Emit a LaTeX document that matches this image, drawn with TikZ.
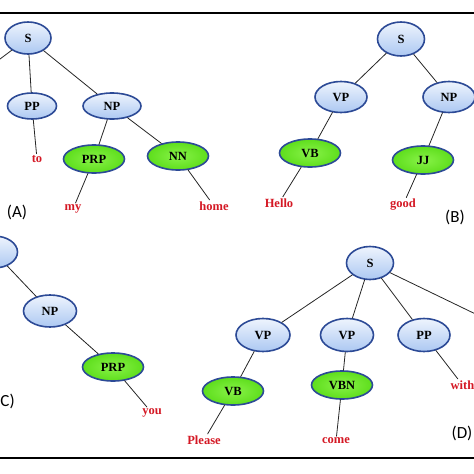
\documentclass[tikz,border=0pt]{standalone}
\usepackage{fontspec}
\setmainfont{Liberation Serif}
\newfontfamily\panelfont{Carlito}
\usetikzlibrary{shapes.geometric}
\definecolor{rim}{RGB}{44,74,150}
\definecolor{blueup}{RGB}{238,244,253}
\definecolor{bluedown}{RGB}{172,200,242}
\definecolor{leafin}{RGB}{136,242,72}
\definecolor{leafout}{RGB}{94,222,28}
\definecolor{word}{RGB}{212,24,36}
\tikzset{
 phr/.style={ellipse, draw=rim, line width=1.6pt, top color=blueup, bottom color=bluedown,
   minimum width=52, minimum height=31, inner sep=0pt, font=\fontsize{12.5}{12.5}\selectfont\bfseries},
 tag/.style={phr, inner color=leafin, outer color=leafout, minimum width=61, minimum height=28},
 wrd/.style={text=word, inner sep=1.5pt, font=\fontsize{12.5}{12.5}\selectfont\bfseries},
 lbl/.style={font=\fontsize{17}{17}\selectfont\panelfont},
 edge/.style={line width=0.8pt, black!85}
}
\begin{document}
\begin{tikzpicture}[x=1pt, y=-1pt, line cap=round, line join=round]
 \useasboundingbox (0,0) rectangle (474,474);
 \clip (0,0) rectangle (474,474);
 \draw[line width=2.5pt, line cap=butt] (0,13)--(474,13) (0,458)--(474,458);
 % (A)
 \node[phr, minimum width=46, minimum height=32] (sA) at (28,38) {S};
 \node[phr, minimum width=49, minimum height=26] (ppA) at (32,106) {PP};
 \node[phr, minimum width=58, minimum height=26] (npA) at (112,106) {NP};
 \node[tag] (prpA) at (94,159) {PRP};
 \node[tag] (nnA) at (178,156) {NN};
 \node[wrd] (toA) at (37,159) {to};
 \node[wrd] (myA) at (73,209) {my};
 \node[wrd] (homeA) at (214,206) {home};
 \coordinate (offA) at (-20,74);
 \foreach \a/\b in {sA/offA,sA/ppA,sA/npA,ppA/toA,npA/prpA,npA/nnA,prpA/myA,nnA/homeA} \draw[edge] (\a)--(\b);
 \node[lbl] (labA) at (17,212) {(A)};
 % (B)
 \node[phr, minimum width=47, minimum height=34] (sB) at (401,39) {S};
 \node[phr] (vpB) at (341,97) {VP};
 \node[phr] (npB) at (449,97) {NP};
 \node[tag] (vbB) at (310,153) {VB};
 \node[tag] (jjB) at (423,160) {JJ};
 \node[wrd] (helloB) at (279,203) {Hello};
 \node[wrd] (goodB) at (403,205) {good};
 \foreach \a/\b in {sB/vpB,sB/npB,vpB/vbB,npB/jjB,vbB/helloB,jjB/goodB} \draw[edge] (\a)--(\b);
 \node[lbl] (labB) at (455,217) {(B)};
 % (C)
 \node[phr, minimum width=47, minimum height=32] (sC) at (-6,252) {};
 \node[phr, minimum width=53, minimum height=32] (npC) at (50,311) {NP};
 \node[tag] (prpC) at (113,367) {PRP};
 \node[wrd] (youC) at (152,413) {you};
 \foreach \a/\b in {sC/npC,npC/prpC,prpC/youC} \draw[edge] (\a)--(\b);
 \node[lbl] (labC) at (5,401) {(C)};
 % (D)
 \node[phr, minimum width=47, minimum height=33] (sD) at (370,263) {S};
 \node[phr, minimum width=54, minimum height=33] (vpD) at (263,335) {VP};
 \node[phr, minimum width=53, minimum height=33] (vvD) at (347,335) {VP};
 \node[phr, minimum width=52, minimum height=33] (ppD) at (424,335) {PP};
 \node[tag] (vbD) at (233,391) {VB};
 \node[tag] (vbnD) at (342,385) {VBN};
 \node[wrd] (pleaseD) at (204,440) {Please};
 \node[wrd] (comeD) at (336,441) {come};
 \node[wrd, anchor=west] (withD) at (449,385) {with};
 \coordinate (offD) at (490,321);
 \foreach \a/\b in {sD/vpD,sD/vvD,sD/ppD,sD/offD,vpD/vbD,vvD/vbnD,vbD/pleaseD,vbnD/comeD,ppD/withD} \draw[edge] (\a)--(\b);
 \node[lbl] (labD) at (462,433) {(D)};
\end{tikzpicture}
\end{document}
